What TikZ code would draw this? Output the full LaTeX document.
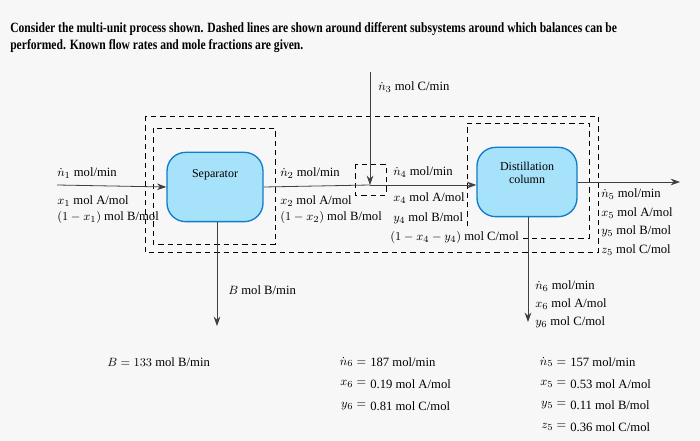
\documentclass[tikz,border=0pt]{standalone}
\usepackage{fontspec}
\setmainfont{Liberation Serif}
\usetikzlibrary{arrows.meta}
\begin{document}
\begin{tikzpicture}[x=0.75pt,y=-0.75pt,
  lbl/.style={anchor=west,inner sep=0pt,font=\fontsize{9.5}{10}\selectfont},
  unit/.style={draw=cyan!60!blue,line width=1pt,fill=cyan!35!white,rounded corners=14pt,font=\fontsize{9}{10}\selectfont,align=center},
  flow/.style={draw=black!75,line width=0.6pt},
  flowarr/.style={flow,-{Stealth[length=7pt,width=5pt]}},
  sub/.style={dashed,line width=0.6pt,dash pattern=on 4pt off 3pt}]
  \useasboundingbox[fill=black!3] (0,0) rectangle (700,441);
	% header
	\node[anchor=north west,inner sep=0pt,align=left,font=\bfseries\fontsize{10.6}{13}\selectfont] (head) at (10,22) {\scalebox{0.82}[1]{Consider the multi-unit process shown. Dashed lines are shown around different subsystems around which balances can be}\\\scalebox{0.82}[1]{performed. Known flow rates and mole fractions are given.}};
	% units
	\node[unit,minimum width=72pt,minimum height=52pt] (sep) at (215,187) {Separator\\[10pt]};
	\node[unit,minimum width=75pt,minimum height=52pt] (dist) at (527,182) {Distillation\\column\\[4pt]};
	% subsystems
	\draw[sub] (145,116) rectangle (598,252);
	\draw[sub] (153,128) rectangle (275,244);
	\draw[sub] (355,164) rectangle (386,195);
	\draw[sub] (467,226) -- (467,123) -- (589,123) -- (589,238) -- (523,238);
	% streams
	\coordinate (feed) at (57,185);
	\coordinate (mix) at (370,185);
	\coordinate (top3) at (370,72);
	\coordinate (out5) at (680,182);
	\coordinate (bot) at (217,326);
	\coordinate (out6) at (528,322);
	\draw[flowarr] (feed) -- (sep.west);
	\draw[flow] (sep.east) -- (mix);
	\draw[flowarr] (mix) -- (dist.west |- mix);
	\draw[flowarr] (top3) -- (mix);
	\draw[flowarr] (dist.east) -- (out5);
	\draw[flowarr] (sep.south -| bot) -- (bot);
	\draw[flowarr] (dist.south -| out6) -- (out6);
	% stream labels
	\node[lbl] (n1) at (57,173) {$\dot n_1$ mol/min};
	\node[lbl] (x1) at (57,201) {$x_1$ mol A/mol};
	\node[lbl] (b1) at (57,218) {$(1-x_1)$ mol B/mol};
	\node[lbl] (n2) at (280,173) {$\dot n_2$ mol/min};
	\node[lbl] (x2) at (280,201) {$x_2$ mol A/mol};
	\node[lbl] (b2) at (280,218) {$(1-x_2)$ mol B/mol};
	\node[lbl] (n3) at (378,87) {$\dot n_3$ mol C/min};
	\node[lbl] (n4) at (393,172) {$\dot n_4$ mol/min};
	\node[lbl] (x4) at (393,198) {$x_4$ mol A/mol};
	\node[lbl] (y4) at (393,218) {$y_4$ mol B/mol};
	\node[lbl] (c4) at (390,238) {$(1-x_4-y_4)$ mol C/mol};
	\node[lbl] (n5) at (601,194) {$\dot n_5$ mol/min};
	\node[lbl] (x5) at (601,213) {$x_5$ mol A/mol};
	\node[lbl] (y5) at (601,231) {$y_5$ mol B/mol};
	\node[lbl] (z5) at (601,250) {$z_5$ mol C/mol};
	\node[lbl] (bb) at (228,290) {$B$ mol B/min};
	\node[lbl] (n6) at (535,286) {$\dot n_6$ mol/min};
	\node[lbl] (x6) at (535,304) {$x_6$ mol A/mol};
	\node[lbl] (y6) at (535,322) {$y_6$ mol C/mol};
	% known values
	\node[lbl] (rb) at (107,362) {$B = 133$ mol B/min};
	\node[lbl,anchor=east] (r6n) at (370,362) {$\dot n_6 = {}$};
	\node[lbl] at (r6n.east) {187 mol/min};
	\node[lbl,anchor=east] (r6x) at (370,384) {$x_6 = {}$};
	\node[lbl] at (r6x.east) {0.19 mol A/mol};
	\node[lbl,anchor=east] (r6y) at (370,406) {$y_6 = {}$};
	\node[lbl] at (r6y.east) {0.81 mol C/mol};
	\node[lbl,anchor=east] (r5n) at (570,362) {$\dot n_5 = {}$};
	\node[lbl] at (r5n.east) {157 mol/min};
	\node[lbl,anchor=east] (r5x) at (570,384) {$x_5 = {}$};
	\node[lbl] at (r5x.east) {0.53 mol A/mol};
	\node[lbl,anchor=east] (r5y) at (570,405) {$y_5 = {}$};
	\node[lbl] at (r5y.east) {0.11 mol B/mol};
	\node[lbl,anchor=east] (r5z) at (570,427) {$z_5 = {}$};
	\node[lbl] at (r5z.east) {0.36 mol C/mol};
\end{tikzpicture}
\end{document}
